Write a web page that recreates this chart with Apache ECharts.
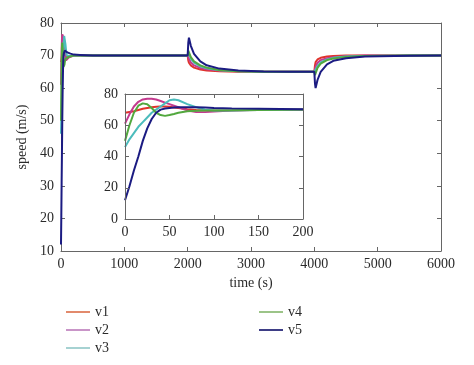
<!DOCTYPE html>
<html>
<head>
<meta charset="utf-8">
<script src="https://cdn.jsdelivr.net/npm/echarts@6/dist/echarts.min.js"></script>
<style>html,body{margin:0;padding:0;background:#fff}#c{width:474px;height:365px}</style>
</head>
<body>
<div id="c"></div>
<script>
// ---- data ----
const names = ['v1', 'v2', 'v3', 'v4', 'v5'];
const colors = ['#e0332b', '#c43a8e', '#4bbcbc', '#52a83e', '#1b1b82'];
const legendColors = ['#e28a6c', '#c995c8', '#a6d2d2', '#9cc488', '#3e3e86'];

// initial transient (s)
const tInit = [0, 5, 10, 15, 20, 25, 30, 35, 40, 45, 50, 55, 60, 70, 80, 90, 100, 120, 150, 200];
const v1Init = [68, 68.5, 69, 69.8, 70.5, 71, 71.5, 71.8, 72, 72, 71.8, 71.4, 71, 70.2, 69.8, 69.6, 69.5, 69.6, 69.8, 70];
const v2Init = [61, 67, 72, 75, 76.5, 77, 77, 76.5, 75.5, 74.5, 73.5, 72.5, 71.5, 69.5, 68.5, 68.4, 68.8, 69.4, 69.9, 70];
const v3Init = [46, 51, 55, 59, 62, 65, 68, 70, 72, 74, 76, 76.5, 76, 73.5, 71.5, 70, 69.5, 69.5, 69.8, 70];
const v4Init = [50, 60, 68, 72.5, 74, 73.5, 71, 68, 66.5, 66, 66.5, 67.2, 68, 69, 69.3, 69.4, 69.5, 69.6, 69.8, 70];
const v5Init = [12, 21, 31, 40, 50, 58, 64, 68, 70, 70.7, 71, 71.3, 71.5, 71.6, 71.5, 71.3, 71, 70.8, 70.6, 70.3];

// rest of the run (s)
const tLong = [300, 500, 1000, 1500, 2000, 2010, 2020, 2050, 2100, 2200, 2300, 2500, 2800, 3200, 3600, 4000, 4010, 4020, 4050, 4100, 4200, 4300, 4500, 4800, 5500, 6000];
const v1Long = [70, 70, 70, 70, 70, 68.5, 67.8, 67, 66.3, 65.7, 65.4, 65.15, 65, 65, 65, 65, 67, 68, 68.8, 69.3, 69.7, 69.85, 70, 70, 70, 70];
const v2Long = [70, 70, 70, 70, 70, 70, 69, 67.9, 67, 66.2, 65.8, 65.4, 65.15, 65, 65, 65, 65.5, 66.5, 67.8, 68.6, 69.2, 69.5, 69.8, 70, 70, 70];
const v3Long = [70, 70, 70, 70, 70, 71, 70.5, 69, 67.8, 66.7, 66.1, 65.5, 65.2, 65, 65, 65, 64.5, 65, 66.8, 67.9, 68.8, 69.3, 69.7, 69.9, 70, 70];
const v4Long = [70, 70, 70, 70, 70, 71.5, 71, 69.5, 68.2, 67, 66.3, 65.6, 65.2, 65.05, 65, 65, 64, 64.5, 66.2, 67.5, 68.6, 69.1, 69.6, 69.9, 70, 70];
const v5Long = [70.2, 70, 70, 70, 70, 74, 75.5, 73, 70.5, 68.2, 67, 66, 65.4, 65.1, 65, 65, 61.5, 60, 62.5, 65, 67.3, 68.4, 69.2, 69.7, 69.95, 70];

const mainXTicks = { min: 0, max: 6000, interval: 1000 };
const mainYTicks = { min: 10, max: 80, interval: 10 };
const insetXTicks = { min: 0, max: 200, interval: 50 };
const insetYTicks = { min: 0, max: 80, interval: 20 };

// ---- chart ----
const inits = [v1Init, v2Init, v3Init, v4Init, v5Init];
const longs = [v1Long, v2Long, v3Long, v4Long, v5Long];
const pairs = (ts, vs) => ts.map((t, i) => [t, vs[i]]);

const FONT = 'Liberation Serif';
const axisCol = '#666';
const txt = { fontFamily: FONT, fontSize: 14, color: '#2a2a2a' };
const plain = v => String(v);

function xAx(grid, r, pos, labels, extra) {
  return Object.assign({
    type: 'value', gridIndex: grid, position: pos, min: r.min, max: r.max, interval: r.interval,
    axisLine: { show: true, onZero: false, lineStyle: { color: axisCol, width: 1 } },
    axisTick: { show: true, inside: true, length: 4, lineStyle: { color: axisCol } },
    axisLabel: Object.assign({ show: labels, margin: 6, formatter: plain }, txt),
    splitLine: { show: false }
  }, extra || {});
}
function yAx(grid, r, pos, labels, extra) {
  return Object.assign({
    type: 'value', gridIndex: grid, position: pos, min: r.min, max: r.max, interval: r.interval,
    axisLine: { show: true, onZero: false, lineStyle: { color: axisCol, width: 1 } },
    axisTick: { show: true, inside: true, length: 4, lineStyle: { color: axisCol } },
    axisLabel: Object.assign({ show: labels, margin: 7, formatter: plain }, txt),
    splitLine: { show: false }
  }, extra || {});
}

const series = [];
names.forEach((n, i) => {
  series.push({
    name: n, type: 'line', xAxisIndex: 0, yAxisIndex: 0, showSymbol: false, symbol: 'none',
    data: pairs(tInit, inits[i]).concat(pairs(tLong, longs[i])),
    lineStyle: { color: colors[i], width: 2 }, itemStyle: { color: colors[i] }, z: 2 + i * 0.1
  });
});
names.forEach((n, i) => {
  series.push({
    name: n, type: 'line', xAxisIndex: 2, yAxisIndex: 2, showSymbol: false, symbol: 'none',
    data: pairs(tInit, inits[i]),
    lineStyle: { color: colors[i], width: 2 }, itemStyle: { color: colors[i] }, z: 5 + i * 0.1
  });
});

const legendItem = i => ({ name: names[i], itemStyle: { color: legendColors[i] }, lineStyle: { color: legendColors[i] } });
const legendBase = {
  orient: 'vertical', icon: 'rect', itemWidth: 24, itemHeight: 2, itemGap: 4,
  textStyle: { fontFamily: FONT, fontSize: 14, color: '#2a2a2a', lineHeight: 14 },
  selectedMode: false
};

const option = {
  animation: false,
  backgroundColor: '#fff',
  grid: [
    { left: 61, right: 33, top: 23, bottom: 114 },
    { left: 125, right: 171, top: 94, bottom: 146, show: true, backgroundColor: '#fff', borderWidth: 0, z: 4 }
  ],
  xAxis: [
    xAx(0, mainXTicks, 'bottom', true, { name: 'time (s)', nameLocation: 'middle', nameGap: 24, nameTextStyle: txt }),
    xAx(0, mainXTicks, 'top', false),
    xAx(1, insetXTicks, 'bottom', true, { z: 6 }),
    xAx(1, insetXTicks, 'top', false, { z: 6 })
  ],
  yAxis: [
    yAx(0, mainYTicks, 'left', true, { name: 'speed (m/s)', nameLocation: 'middle', nameGap: 30, nameRotate: 90, nameTextStyle: txt }),
    yAx(0, mainYTicks, 'right', false),
    yAx(1, insetYTicks, 'left', true, { z: 6 }),
    yAx(1, insetYTicks, 'right', false, { z: 6 })
  ],
  legend: [
    Object.assign({ left: 61, top: 300, data: [0, 1, 2].map(legendItem) }, legendBase),
    Object.assign({ left: 254, top: 300, data: [3, 4].map(legendItem) }, legendBase)
  ],
  series: series
};

echarts.init(document.getElementById('c')).setOption(option);
</script>
</body>
</html>
